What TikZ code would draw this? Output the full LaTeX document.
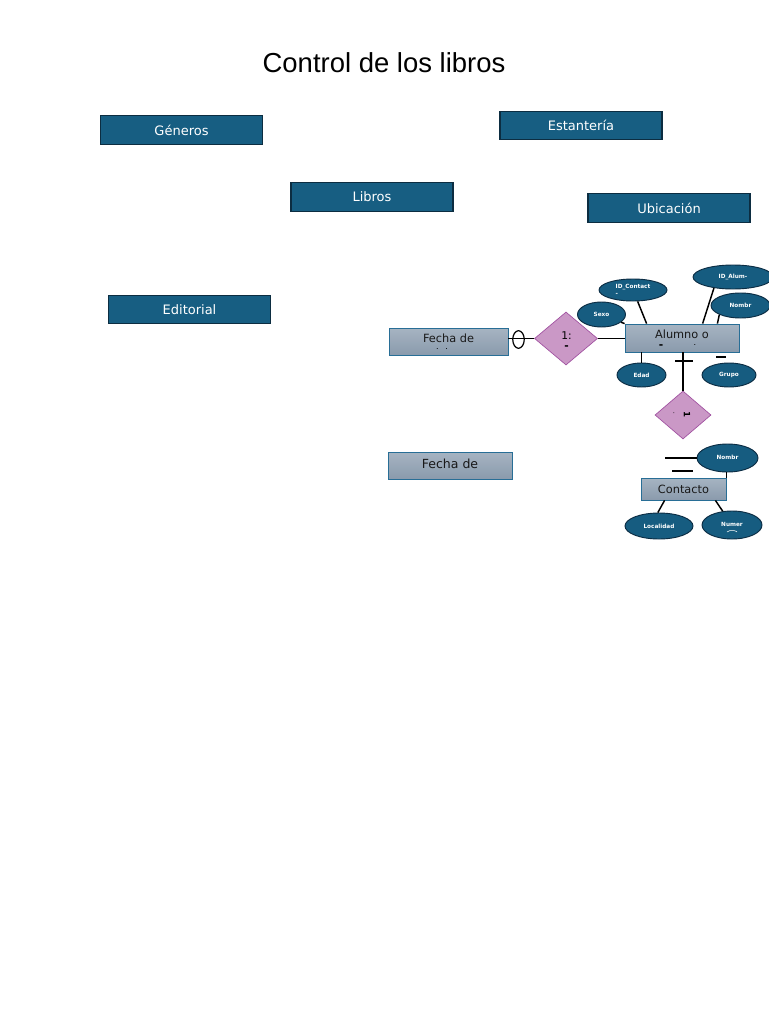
\documentclass[tikz,border=0pt]{standalone}
\usepackage{fontspec}
\setmainfont{DejaVu Sans}
\newfontfamily\titlefont{Liberation Sans}
\usetikzlibrary{shapes.geometric,calc}
\definecolor{boxblue}{RGB}{23,94,130}
\definecolor{boxedge}{RGB}{12,45,65}
\definecolor{lighttop}{RGB}{166,180,194}
\definecolor{lightbot}{RGB}{138,154,172}
\definecolor{lightedge}{RGB}{40,110,150}
\definecolor{relfill}{RGB}{202,152,198}
\definecolor{reledge}{RGB}{160,80,160}
\definecolor{attrfill}{RGB}{22,92,128}
\definecolor{attredge}{RGB}{12,45,68}
\begin{document}
\begin{tikzpicture}[x=0.75pt,y=-0.75pt,
  darkbox/.style={draw=boxedge, fill=boxblue, text=white, line width=0.8pt,
    font=\fontsize{9.75}{11}\selectfont, inner sep=0pt,
    minimum width=121.5pt, minimum height=21.5pt},
  lightbox/.style={draw=lightedge, top color=lighttop, bottom color=lightbot,
    line width=0.6pt, inner sep=0pt},
  lbtext/.style={font=\fontsize{8.5}{10}\selectfont, text=black!90, inner sep=0pt},
  rel/.style={diamond, draw=reledge, fill=relfill, inner sep=0pt, line width=0.5pt},
  attr/.style={ellipse, draw=attredge, fill=attrfill, inner sep=0pt, line width=0.7pt,
    text=white, font=\bfseries\fontsize{4.3}{5}\selectfont},
  conn/.style={line width=1.1pt, black},
  marktext/.style={font=\fontsize{6}{6}\selectfont, inner sep=0pt}]
\useasboundingbox (0,0) rectangle (768,1024);
\fill[white] (0,0) rectangle (768,1024);

% title
\node[font=\titlefont\fontsize{20.6}{24}\selectfont, inner sep=0pt] (title) at (384,63) {Control de los libros};

% dark boxes
\node[darkbox] (gen) at (181.5,130) {Géneros};
\node[darkbox] (est) at (581,125.5) {Estantería};
\node[darkbox] (lib) at (372,197) {Libros};
\node[darkbox] (ubi) at (669,208) {Ubicación};
\node[darkbox] (edi) at (189.5,309.5) {Editorial};

% light boxes
\node[lightbox, minimum width=89.25pt, minimum height=20.25pt] (fecha1) at (448.5,341.5) {};
\node[lbtext] (fecha1t) at (448.5,338) {Fecha de};
\node[marktext] (fecha1m) at (442,349) {.\hspace{5pt}.};

\node[lightbox, minimum width=93pt, minimum height=20.25pt] (fecha2) at (450,465.5) {};
\node[lbtext, font=\fontsize{9.4}{11}\selectfont] (fecha2t) at (450,464) {Fecha de};

\node[lightbox, minimum width=85.5pt, minimum height=21pt] (alumno) at (682,338) {};
\node[lbtext] (alumnot) at (682,334) {Alumno o};
\node[marktext, font=\bfseries\fontsize{8}{8}\selectfont] (alumm1) at (661,346.5) {-};
\node[marktext] (alumm2) at (695,345) {.};

\node[lightbox, minimum width=63.75pt, minimum height=16.5pt] (contacto) at (683.5,489) {};
\node[lbtext] (contactot) at (683.5,489) {Contacto};

% relationships
\node[rel, minimum width=47.25pt, minimum height=39.75pt] (d1) at (566,338.5) {};
\node[marktext, font=\fontsize{8}{7.5}\selectfont, align=center] (d1a) at (566.5,340.5) {1:\\\textbf{-}};

\node[rel, minimum width=42pt, minimum height=36pt] (d2) at (683,415) {};
\node[marktext, font=\fontsize{5}{5}\selectfont] (d2a) at (674,414) {·};
\node[marktext, font=\bfseries\fontsize{6.5}{6.5}\selectfont, rotate=-90] (d2b) at (687,414.5) {1};

% attributes
\node[attr, minimum width=51pt, minimum height=16.5pt, align=left] (idc) at (633,290) {ID\_Contact\\-};
\node[attr, minimum width=36pt, minimum height=18.75pt] (sexo) at (601.5,314.5) {Sexo};
\node[attr, minimum width=60pt, minimum height=18pt] (ida) at (733,277) {ID\_Alum-};
\node[attr, minimum width=44.25pt, minimum height=18.75pt] (nom1) at (740.5,305.5) {Nombr};
\node[attr, minimum width=36.75pt, minimum height=18pt] (edad) at (641.5,375) {Edad};
\node[attr, minimum width=40.5pt, minimum height=18pt] (grupo) at (729,375) {Grupo};
\node[attr, minimum width=45.75pt, minimum height=21pt] (nom2) at (727.5,458) {\raisebox{1.5pt}{Nombr}};
\node[attr, minimum width=51pt, minimum height=19.5pt] (loc) at (659,526) {Localidad};
\node[attr, minimum width=45pt, minimum height=21pt] (num) at (732,525) {\raisebox{1.5pt}{Numer}};
\draw[white, line width=0.4pt] (727,532) arc[start angle=160, end angle=20, x radius=4pt, y radius=1.8pt];

% connectors
\draw[conn] (fecha1.east |- d1.west) -- (d1.west);
\draw[line width=0.9pt, black] (518.5,339.5) ellipse[x radius=4.3pt, y radius=6.6pt];
\draw[conn] (d1.east) -- (alumno.west |- d1.east);
\draw[conn] (sexo) -- (alumno.north west);
\draw[conn] (idc) -- ($(alumno.north west)+(22,0)$);
\draw[conn] (ida.210) -- ($(alumno.north west)+(78,0)$);
\draw[conn] (nom1.south west) -- ($(alumno.north east)+(-22,0)$);
\draw[conn] (edad.north) -- (edad.north |- alumno.south);
\draw[conn] (d2.north |- alumno.south) -- (d2.north);
\coordinate (bar1l) at (675,361);
\coordinate (bar1r) at (693,361);
\draw[conn] (bar1l) -- (bar1r);
\coordinate (tickl) at (716,357);
\coordinate (tickr) at (726,357);
\draw[conn] (tickl) -- (tickr);

\coordinate (c1) at (665,458);
\draw[conn] (nom2.west) -- (c1);
\coordinate (bar2l) at (672,471);
\coordinate (bar2r) at (693,471);
\draw[conn] (bar2l) -- (bar2r);
\draw[conn] (contacto.north east) -- (contacto.north east |- nom2.south);
\draw[conn] ($(contacto.south west)+(24,0)$) -- (loc.95);
\draw[conn] ($(contacto.south east)+(-11,0)$) -- (num);
\end{tikzpicture}
\end{document}
